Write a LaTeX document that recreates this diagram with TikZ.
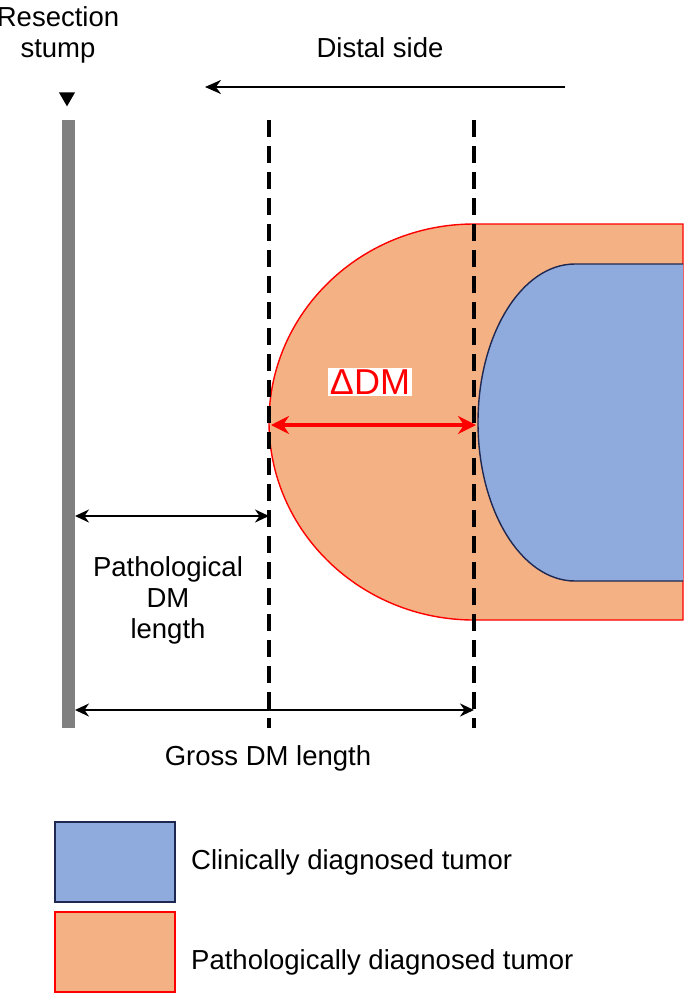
\documentclass[tikz,border=0pt]{standalone}
\usepackage{fontspec}
\setmainfont{Liberation Sans}
\usetikzlibrary{arrows.meta,shapes.geometric}
\definecolor{org}{RGB}{244,177,131}
\definecolor{blu}{RGB}{143,170,220}
\definecolor{nav}{RGB}{30,40,80}
\begin{document}
\begin{tikzpicture}[x=1pt,y=-1pt,
  lbl/.style={font=\fontsize{27.5}{31}\selectfont,align=center,inner sep=1pt},
  dim/.style={{Stealth[length=14pt,width=13pt]}-{Stealth[length=14pt,width=13pt]},line width=2.4pt},
  dline/.style={line width=3.6pt,dash pattern=on 17pt off 9pt}]
\useasboundingbox (0,0) rectangle (685,997);
% shapes
\path[fill=org,draw=red,line width=1.4pt] (683,224) -- (474,224) arc[start angle=-90,end angle=-270,x radius=205,y radius=198] -- (683,620) -- cycle;
\path[fill=blu,draw=nav,line width=1.4pt] (683,264) -- (575,264) arc[start angle=-90,end angle=-270,x radius=97,y radius=158.5] -- (683,581);
% bar
\fill[gray] (62,120) rectangle (75,728);
\node[fill=black,isosceles triangle,isosceles triangle apex angle=60,shape border rotate=-90,inner sep=0pt,minimum size=14pt] (tri) at (67,97) {};
\node[lbl] (rs) at (58,35) {Resection\\stump};
% dashed
\coordinate (d1t) at (269,120); \coordinate (d1b) at (269,728);
\coordinate (d2t) at (474,120); \coordinate (d2b) at (474,728);
\draw[dline] (d1t) -- (d1b);
\draw[dline] (d2t) -- (d2b);
% distal
\node[lbl] (ds) at (380,48) {Distal side};
\coordinate (a1) at (565,87); \coordinate (a2) at (205,87);
\draw[-{Stealth[length=16pt,width=14pt]},line width=2.4pt] (a1) -- (a2);
% delta DM
\coordinate (r1) at (271,425); \coordinate (r2) at (476,425);
\draw[{Stealth[length=18pt,width=18pt]}-{Stealth[length=18pt,width=18pt]},red,line width=4.5pt] (r1) -- (r2);
\node[font=\fontsize{36}{40}\selectfont,fill=white,text=red,inner sep=2pt] (ddm) at (370,382) {ΔDM};
% dims
\coordinate (p1) at (75,516); \coordinate (p2) at (269,516);
\draw[dim] (p1) -- (p2);
\node[lbl] (pl) at (168,600) {Pathological\\DM\\length};
\coordinate (g1) at (75,710); \coordinate (g2) at (474,710);
\draw[dim] (g1) -- (g2);
\node[lbl] (gl) at (268,758) {Gross DM length};
% legend
\draw[fill=blu,draw=nav,line width=1.4pt] (55,822) rectangle (175,902);
\draw[fill=org,draw=red,line width=1.4pt] (55,912) rectangle (175,992);
\node[lbl,anchor=west] (l1) at (190,862) {Clinically diagnosed tumor};
\node[lbl,anchor=west] (l2) at (190,962) {Pathologically diagnosed tumor};
\end{tikzpicture}
\end{document}
